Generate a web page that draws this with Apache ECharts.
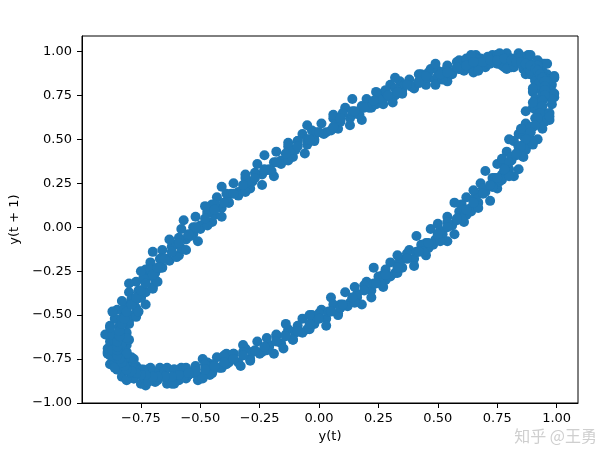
<!DOCTYPE html>
<html>
<head>
<meta charset="utf-8">
<title>lag plot</title>
<script src="https://cdn.jsdelivr.net/npm/echarts@6/dist/echarts.min.js"></script>
<style>
  html, body { margin: 0; padding: 0; background: #fff; }
  #chart { width: 612px; height: 461px; }
</style>
</head>
<body>
<div id="chart"></div>
<script>
// lag plot points [y(t), y(t + 1)]
var upperArc = [
  [0.08,0.56],[0.01,0.59],[0.06,0.62],[0.03,0.54],[0.09,0.60],
  [0.13,0.62],[0.16,0.65],[0.11,0.68],[0.14,0.64],[0.18,0.61],
  [0.27,0.70],[0.20,0.73],[0.25,0.76],[0.22,0.68],[0.28,0.74],
  [0.32,0.75],[0.35,0.78],[0.30,0.81],[0.28,0.77],[0.34,0.83],
  [0.45,0.81],[0.38,0.84],[0.43,0.87],[0.40,0.79],[0.46,0.85],
  [0.49,0.84],[0.52,0.87],[0.47,0.90],[0.50,0.86],[0.54,0.83],
  [0.61,0.89],[0.54,0.92],[0.59,0.95],[0.56,0.87],[0.62,0.93],
  [0.64,0.90],[0.67,0.93],[0.62,0.96],[0.60,0.92],[0.66,0.98],
  [0.75,0.93],[0.68,0.96],[0.73,0.98],[0.70,0.91],[0.76,0.96],
  [0.77,0.92],[0.80,0.95],[0.75,0.98],[0.78,0.94],[0.82,0.91],
  [0.86,0.93],[0.79,0.96],[0.84,0.99],[0.81,0.91],[0.87,0.97],
  [0.86,0.90],[0.89,0.93],[0.84,0.96],[0.82,0.92],[0.88,0.98],
  [0.94,0.89],[0.87,0.92],[0.92,0.95],[0.89,0.87],[0.95,0.93],
  [0.92,0.84],[0.95,0.87],[0.90,0.90],[0.93,0.86],[0.97,0.83],
  [0.98,0.81],[0.91,0.84],[0.96,0.87],[0.93,0.79],[0.99,0.85]
];
var upperArcMid = [
  [0.14,0.66],[0.07,0.60],[0.10,0.65],[0.13,0.58],[0.06,0.64],
  [0.18,0.69],[0.21,0.68],[0.17,0.64],[0.24,0.70],[0.14,0.73],
  [0.32,0.79],[0.25,0.73],[0.28,0.78],[0.31,0.71],[0.24,0.77],
  [0.36,0.81],[0.39,0.80],[0.35,0.76],[0.42,0.82],[0.32,0.85],
  [0.50,0.89],[0.43,0.83],[0.46,0.88],[0.49,0.81],[0.42,0.87],
  [0.53,0.89],[0.56,0.88],[0.52,0.84],[0.59,0.90],[0.49,0.93],
  [0.66,0.96],[0.59,0.90],[0.62,0.95],[0.65,0.88],[0.58,0.94],
  [0.68,0.94],[0.71,0.93],[0.67,0.89],[0.74,0.95],[0.64,0.98],
  [0.79,0.99],[0.72,0.93],[0.75,0.98],[0.78,0.91],[0.71,0.97],
  [0.80,0.95],[0.83,0.94],[0.79,0.90],[0.86,0.96],[0.76,0.99],
  [0.89,0.98],[0.82,0.92],[0.85,0.97],[0.88,0.90],[0.81,0.96],
  [0.88,0.92],[0.91,0.91],[0.87,0.87],[0.94,0.93],[0.84,0.96],
  [0.96,0.93],[0.89,0.87],[0.92,0.92],[0.95,0.85],[0.88,0.91],
  [0.93,0.85],[0.96,0.84],[0.92,0.80],[0.99,0.86],[0.89,0.89],
  [0.99,0.85],[0.92,0.79],[0.95,0.84],[0.98,0.77],[0.91,0.83]
];
var rightSide = [
  [0.94,0.75],[0.97,0.78],[0.92,0.81],[0.90,0.77],[0.96,0.83],
  [0.98,0.70],[0.91,0.73],[0.96,0.76],[0.93,0.68],[0.99,0.74],
  [0.92,0.62],[0.95,0.65],[0.90,0.68],[0.93,0.64],[0.97,0.61],
  [0.94,0.56],[0.87,0.59],[0.92,0.62],[0.89,0.54],[0.95,0.60],
  [0.86,0.47],[0.89,0.50],[0.84,0.53],[0.82,0.49],[0.88,0.55],
  [0.86,0.40],[0.79,0.43],[0.84,0.46],[0.81,0.38],[0.87,0.44],
  [0.77,0.30],[0.80,0.33],[0.75,0.36],[0.78,0.32],[0.82,0.29],
  [0.75,0.22],[0.68,0.25],[0.73,0.28],[0.70,0.20],[0.76,0.26],
  [0.64,0.11],[0.67,0.14],[0.62,0.17],[0.60,0.13],[0.66,0.19],
  [0.61,0.03],[0.54,0.06],[0.59,0.09],[0.56,0.01],[0.62,0.07],
  [0.49,-0.07],[0.52,-0.04],[0.47,-0.01],[0.50,-0.05],[0.54,-0.08],
  [0.45,-0.16],[0.38,-0.13],[0.43,-0.10],[0.40,-0.18],[0.46,-0.12],
  [0.32,-0.26],[0.35,-0.23],[0.30,-0.20],[0.28,-0.24],[0.34,-0.18],
  [0.27,-0.34],[0.20,-0.31],[0.25,-0.28],[0.22,-0.36],[0.28,-0.30],
  [0.13,-0.43],[0.16,-0.40],[0.11,-0.37],[0.14,-0.41],[0.18,-0.44]
];
var rightSideMid = [
  [0.94,0.75],[0.97,0.74],[0.93,0.70],[0.99,0.76],[0.90,0.79],
  [0.98,0.73],[0.91,0.67],[0.94,0.72],[0.97,0.65],[0.90,0.71],
  [0.91,0.62],[0.94,0.61],[0.90,0.57],[0.97,0.63],[0.87,0.66],
  [0.93,0.58],[0.86,0.52],[0.89,0.57],[0.92,0.50],[0.85,0.56],
  [0.84,0.46],[0.87,0.45],[0.83,0.41],[0.90,0.47],[0.80,0.50],
  [0.85,0.41],[0.78,0.35],[0.81,0.40],[0.84,0.33],[0.77,0.39],
  [0.74,0.28],[0.77,0.27],[0.73,0.23],[0.80,0.29],[0.70,0.32],
  [0.73,0.23],[0.66,0.17],[0.69,0.22],[0.72,0.15],[0.65,0.21],
  [0.61,0.10],[0.64,0.09],[0.60,0.05],[0.67,0.11],[0.57,0.14],
  [0.58,0.04],[0.51,-0.02],[0.54,0.03],[0.57,-0.04],[0.50,0.02],
  [0.45,-0.09],[0.48,-0.10],[0.44,-0.14],[0.51,-0.08],[0.41,-0.05],
  [0.41,-0.14],[0.34,-0.20],[0.37,-0.15],[0.40,-0.22],[0.33,-0.16],
  [0.27,-0.27],[0.30,-0.28],[0.26,-0.32],[0.33,-0.26],[0.23,-0.23],
  [0.23,-0.32],[0.16,-0.38],[0.19,-0.33],[0.22,-0.40],[0.15,-0.34],
  [0.09,-0.44],[0.12,-0.45],[0.08,-0.49],[0.15,-0.43],[0.05,-0.40]
];
var lowerArc = [
  [0.08,-0.50],[0.01,-0.47],[0.06,-0.44],[0.03,-0.52],[0.09,-0.46],
  [-0.05,-0.58],[-0.02,-0.55],[-0.07,-0.52],[-0.09,-0.56],[-0.03,-0.50],
  [-0.11,-0.64],[-0.18,-0.61],[-0.13,-0.58],[-0.16,-0.66],[-0.10,-0.60],
  [-0.24,-0.71],[-0.21,-0.68],[-0.26,-0.65],[-0.23,-0.69],[-0.19,-0.72],
  [-0.29,-0.75],[-0.36,-0.72],[-0.31,-0.69],[-0.34,-0.77],[-0.28,-0.71],
  [-0.41,-0.80],[-0.38,-0.77],[-0.43,-0.74],[-0.45,-0.78],[-0.39,-0.72],
  [-0.45,-0.83],[-0.52,-0.80],[-0.47,-0.77],[-0.50,-0.85],[-0.44,-0.79],
  [-0.56,-0.86],[-0.53,-0.83],[-0.58,-0.80],[-0.55,-0.84],[-0.51,-0.87],
  [-0.59,-0.87],[-0.66,-0.84],[-0.61,-0.81],[-0.64,-0.89],[-0.58,-0.83],
  [-0.69,-0.88],[-0.66,-0.85],[-0.71,-0.82],[-0.73,-0.86],[-0.67,-0.80],
  [-0.70,-0.87],[-0.77,-0.84],[-0.72,-0.81],[-0.75,-0.89],[-0.69,-0.83],
  [-0.78,-0.86],[-0.75,-0.83],[-0.80,-0.80],[-0.77,-0.84],[-0.73,-0.87],
  [-0.78,-0.83],[-0.85,-0.80],[-0.80,-0.77],[-0.83,-0.85],[-0.77,-0.79],
  [-0.84,-0.80],[-0.81,-0.77],[-0.86,-0.74],[-0.88,-0.78],[-0.82,-0.72],
  [-0.82,-0.75],[-0.89,-0.72],[-0.84,-0.69],[-0.87,-0.77],[-0.81,-0.71]
];
var lowerArcMid = [
  [0.04,-0.48],[-0.03,-0.54],[0.00,-0.49],[0.03,-0.56],[-0.04,-0.50],
  [-0.10,-0.59],[-0.07,-0.60],[-0.11,-0.64],[-0.04,-0.58],[-0.14,-0.55],
  [-0.14,-0.61],[-0.21,-0.67],[-0.18,-0.62],[-0.15,-0.69],[-0.22,-0.63],
  [-0.28,-0.71],[-0.25,-0.72],[-0.29,-0.76],[-0.22,-0.70],[-0.32,-0.67],
  [-0.32,-0.71],[-0.39,-0.77],[-0.36,-0.72],[-0.33,-0.79],[-0.40,-0.73],
  [-0.45,-0.79],[-0.42,-0.80],[-0.46,-0.84],[-0.39,-0.78],[-0.49,-0.75],
  [-0.48,-0.78],[-0.55,-0.84],[-0.52,-0.79],[-0.49,-0.86],[-0.56,-0.80],
  [-0.60,-0.84],[-0.57,-0.85],[-0.61,-0.89],[-0.54,-0.83],[-0.64,-0.80],
  [-0.61,-0.81],[-0.68,-0.87],[-0.65,-0.82],[-0.62,-0.89],[-0.69,-0.83],
  [-0.72,-0.85],[-0.69,-0.86],[-0.73,-0.90],[-0.66,-0.84],[-0.76,-0.81],
  [-0.71,-0.80],[-0.78,-0.86],[-0.75,-0.81],[-0.72,-0.88],[-0.79,-0.82],
  [-0.80,-0.82],[-0.77,-0.83],[-0.81,-0.87],[-0.74,-0.81],[-0.84,-0.78],
  [-0.78,-0.75],[-0.85,-0.81],[-0.82,-0.76],[-0.79,-0.83],[-0.86,-0.77],
  [-0.85,-0.75],[-0.82,-0.76],[-0.86,-0.80],[-0.79,-0.74],[-0.89,-0.71],
  [-0.81,-0.67],[-0.88,-0.73],[-0.85,-0.68],[-0.82,-0.75],[-0.89,-0.69]
];
var leftSide = [
  [-0.86,-0.71],[-0.83,-0.68],[-0.88,-0.65],[-0.85,-0.69],[-0.81,-0.72],
  [-0.82,-0.64],[-0.89,-0.61],[-0.84,-0.58],[-0.87,-0.66],[-0.81,-0.60],
  [-0.84,-0.58],[-0.81,-0.55],[-0.86,-0.52],[-0.88,-0.56],[-0.82,-0.50],
  [-0.78,-0.50],[-0.85,-0.47],[-0.80,-0.44],[-0.83,-0.52],[-0.77,-0.46],
  [-0.78,-0.43],[-0.75,-0.40],[-0.80,-0.37],[-0.77,-0.41],[-0.73,-0.44],
  [-0.70,-0.34],[-0.77,-0.31],[-0.72,-0.28],[-0.75,-0.36],[-0.69,-0.30],
  [-0.69,-0.26],[-0.66,-0.23],[-0.71,-0.20],[-0.73,-0.24],[-0.67,-0.18],
  [-0.59,-0.16],[-0.66,-0.13],[-0.61,-0.10],[-0.64,-0.18],[-0.58,-0.12],
  [-0.56,-0.07],[-0.53,-0.04],[-0.58,-0.01],[-0.55,-0.05],[-0.51,-0.08],
  [-0.45,0.03],[-0.52,0.06],[-0.47,0.09],[-0.50,0.01],[-0.44,0.07],
  [-0.41,0.11],[-0.38,0.14],[-0.43,0.17],[-0.45,0.13],[-0.39,0.19],
  [-0.29,0.22],[-0.36,0.25],[-0.31,0.28],[-0.34,0.20],[-0.28,0.26],
  [-0.24,0.30],[-0.21,0.33],[-0.26,0.36],[-0.23,0.32],[-0.19,0.29],
  [-0.11,0.40],[-0.18,0.43],[-0.13,0.46],[-0.16,0.38],[-0.10,0.44],
  [-0.05,0.47],[-0.02,0.50],[-0.07,0.53],[-0.09,0.49],[-0.03,0.55]
];
var leftSideMid = [
  [-0.86,-0.65],[-0.83,-0.66],[-0.87,-0.70],[-0.80,-0.64],[-0.90,-0.61],
  [-0.80,-0.55],[-0.87,-0.61],[-0.84,-0.56],[-0.81,-0.63],[-0.88,-0.57],
  [-0.83,-0.52],[-0.80,-0.53],[-0.84,-0.57],[-0.77,-0.51],[-0.87,-0.48],
  [-0.75,-0.40],[-0.82,-0.46],[-0.79,-0.41],[-0.76,-0.48],[-0.83,-0.42],
  [-0.76,-0.36],[-0.73,-0.37],[-0.77,-0.41],[-0.70,-0.35],[-0.80,-0.32],
  [-0.67,-0.23],[-0.74,-0.29],[-0.71,-0.24],[-0.68,-0.31],[-0.75,-0.25],
  [-0.66,-0.18],[-0.63,-0.19],[-0.67,-0.23],[-0.60,-0.17],[-0.70,-0.14],
  [-0.55,-0.05],[-0.62,-0.11],[-0.59,-0.06],[-0.56,-0.13],[-0.63,-0.07],
  [-0.53,0.00],[-0.50,-0.01],[-0.54,-0.05],[-0.47,0.01],[-0.57,0.04],
  [-0.40,0.14],[-0.47,0.08],[-0.44,0.13],[-0.41,0.06],[-0.48,0.12],
  [-0.37,0.19],[-0.34,0.18],[-0.38,0.14],[-0.31,0.20],[-0.41,0.23],
  [-0.23,0.32],[-0.30,0.26],[-0.27,0.31],[-0.24,0.24],[-0.31,0.30],
  [-0.19,0.37],[-0.16,0.36],[-0.20,0.32],[-0.13,0.38],[-0.23,0.41],
  [-0.05,0.50],[-0.12,0.44],[-0.09,0.49],[-0.06,0.42],[-0.13,0.48],
  [-0.01,0.54],[0.02,0.53],[-0.02,0.49],[0.05,0.55],[-0.05,0.58]
];
// points along the middle of the band, where the reference is solid
var bandCore = [
  [0.06,0.57],[0.09,0.62],[0.15,0.66],[0.19,0.68],[0.23,0.72],[0.29,0.75],
  [0.33,0.77],[0.37,0.81],[0.42,0.83],[0.45,0.86],[0.51,0.87],[0.54,0.88],
  [0.58,0.91],[0.62,0.92],[0.65,0.94],[0.69,0.94],[0.72,0.95],[0.75,0.95],
  [0.78,0.96],[0.81,0.95],[0.83,0.94],[0.85,0.94],[0.87,0.93],[0.89,0.92],
  [0.91,0.90],[0.92,0.89],[0.93,0.87],[0.94,0.85],[0.95,0.83],[0.95,0.80],
  [0.95,0.78],[0.95,0.75],[0.94,0.72],[0.94,0.69],[0.93,0.65],[0.92,0.62],
  [0.91,0.58],[0.89,0.54],[0.87,0.50],[0.85,0.46],[0.83,0.42],[0.80,0.37],
  [0.78,0.33],[0.75,0.28],[0.72,0.24],[0.69,0.19],[0.65,0.14],[0.62,0.10],
  [0.58,0.05],[0.54,0.00],[0.50,-0.04],[0.46,-0.09],[0.42,-0.14],[0.37,-0.18],
  [0.33,-0.23],[0.28,-0.27],[0.24,-0.32],[0.19,-0.36],[0.14,-0.40],[0.10,-0.44],
  [0.05,-0.48],[0.00,-0.52],[-0.04,-0.55],[-0.09,-0.59],[-0.14,-0.62],[-0.18,-0.65],
  [-0.23,-0.68],[-0.27,-0.70],[-0.32,-0.73],[-0.36,-0.75],[-0.40,-0.77],[-0.44,-0.79],
  [-0.48,-0.81],[-0.52,-0.82],[-0.55,-0.83],[-0.59,-0.84],[-0.62,-0.85],[-0.65,-0.85],
  [-0.68,-0.85],[-0.70,-0.85],[-0.73,-0.84],[-0.75,-0.84],[-0.77,-0.83],[-0.79,-0.82],
  [-0.81,-0.81],[-0.82,-0.79],[-0.83,-0.77],[-0.84,-0.75],[-0.85,-0.73],[-0.85,-0.70],
  [-0.85,-0.68],[-0.85,-0.65],[-0.84,-0.62],[-0.84,-0.59],[-0.83,-0.55],[-0.82,-0.52],
  [-0.81,-0.48],[-0.79,-0.44],[-0.77,-0.40],[-0.75,-0.36],[-0.73,-0.32],[-0.70,-0.27],
  [-0.68,-0.23],[-0.65,-0.18],[-0.62,-0.14],[-0.59,-0.09],[-0.55,-0.04],[-0.52,0.00],
  [-0.48,0.05],[-0.44,0.10],[-0.40,0.14],[-0.36,0.19],[-0.32,0.24],[-0.27,0.28],
  [-0.23,0.33],[-0.18,0.37],[-0.14,0.42],[-0.09,0.46],[-0.04,0.50],[0.00,0.54]
];

var xTicks = [-0.75, -0.5, -0.25, 0, 0.25, 0.5, 0.75, 1.0];
var yTicks = [-1.0, -0.75, -0.5, -0.25, 0, 0.25, 0.5, 0.75, 1.0];

function fmt(v) {
  return v.toFixed(2).replace('-', '\u2212');
}

var chart = echarts.init(document.getElementById('chart'));
var font = 'DejaVu Sans';

var option = {
  animation: false,
  backgroundColor: '#fff',
  grid: {
    left: 82, right: 34, top: 36, bottom: 58,
    show: true, borderColor: '#000', borderWidth: 1, backgroundColor: 'transparent'
  },
  xAxis: {
    type: 'value',
    min: -0.998, max: 1.09,
    name: 'y(t)',
    nameLocation: 'middle',
    nameGap: 27,
    nameTextStyle: { color: '#000', fontSize: 13, fontFamily: font },
    axisLine: { show: true, onZero: false, lineStyle: { color: '#000', width: 1 } },
    splitLine: { show: false },
    axisTick: { show: true, inside: false, length: 5, lineStyle: { color: '#000' }, customValues: xTicks },
    axisLabel: { color: '#000', fontSize: 13, fontFamily: font, margin: 9, customValues: xTicks, formatter: fmt }
  },
  yAxis: {
    type: 'value',
    min: -1.0, max: 1.088,
    name: 'y(t + 1)',
    nameLocation: 'middle',
    nameGap: 57,
    nameRotate: 90,
    nameTextStyle: { color: '#000', fontSize: 13, fontFamily: font },
    axisLine: { show: true, onZero: false, lineStyle: { color: '#000', width: 1 } },
    splitLine: { show: false },
    axisTick: { show: true, inside: false, length: 5, lineStyle: { color: '#000' }, customValues: yTicks },
    axisLabel: { color: '#000', fontSize: 13, fontFamily: font, margin: 10, customValues: yTicks, formatter: fmt }
  },
  series: [{
    type: 'scatter',
    symbol: 'circle',
    symbolSize: 10,
    itemStyle: { color: '#1f77b4', opacity: 1 },
    data: upperArc.concat(upperArcMid, rightSide, rightSideMid, lowerArc, lowerArcMid, leftSide, leftSideMid, bandCore)
  }],
  graphic: [{
    type: 'text',
    right: 15,
    bottom: 17,
    style: {
      text: '知乎 @王勇',
      fill: '#cfcfcf',
      fontSize: 16,
      fontFamily: 'Noto Sans CJK SC'
    }
  }]
};

chart.setOption(option);
</script>
</body>
</html>
